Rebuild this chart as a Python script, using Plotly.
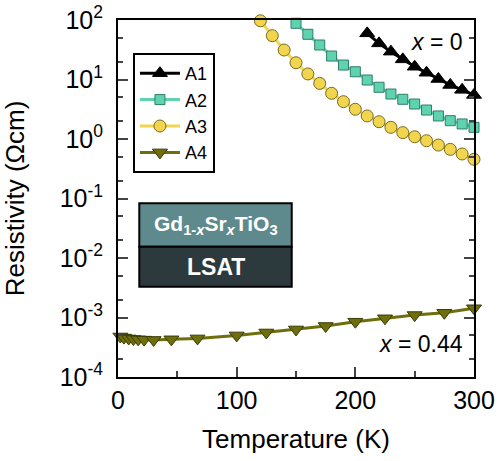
import plotly.graph_objects as go

# ---- data ----
T_A1 = [210, 220, 230, 240, 250, 260, 270, 280, 290, 300]
R_A1 = [59.7, 40.5, 29.4, 21.8, 16.4, 13.0, 10.2, 8.1, 6.7, 5.5]

T_A2 = [150, 160, 170, 180, 190, 200, 210, 220, 230, 240, 250, 260, 270, 280, 290, 300]
R_A2 = [88, 57.5, 38, 24.8, 17.5, 13.5, 9.8, 7.4, 5.7, 4.65, 3.87, 3.07, 2.44, 2.03, 1.79, 1.57]

T_A3 = [120, 130, 140, 150, 160, 170, 180, 190, 200, 210, 220, 230, 240, 250, 260, 270, 280, 290, 300]
R_A3 = [97, 54.5, 31.3, 19.1, 12.4, 8.6, 5.86, 4.24, 3.16, 2.44, 1.95, 1.57, 1.28, 1.09, 0.935, 0.79, 0.67, 0.56, 0.456]

T_A4 = [2, 5, 9, 13, 17, 22, 30, 45, 67, 100, 125, 150, 175, 200, 225, 250, 275, 300]
R_A4 = [4.8e-4, 4.6e-4, 4.45e-4, 4.35e-4, 4.3e-4, 4.25e-4, 4.2e-4, 4.3e-4, 4.45e-4, 5.0e-4, 5.6e-4,
        6.3e-4, 7.2e-4, 8.5e-4, 9.7e-4, 1.1e-3, 1.2e-3, 1.43e-3]

Y_TICKVALS = [1e-4, 1e-3, 1e-2, 1e-1, 1e0, 1e1, 1e2]
Y_TICKTEXT = ["10<sup>-4</sup>", "10<sup>-3</sup>", "10<sup>-2</sup>", "10<sup>-1</sup>",
              "10<sup>0</sup>", "10<sup>1</sup>", "10<sup>2</sup>"]
X_TICKVALS = [0, 100, 200, 300]

FONT = "Liberation Sans, Arial, sans-serif"

fig = go.Figure()
fig.add_trace(go.Scatter(x=T_A1, y=R_A1, name="A1", mode="lines+markers", cliponaxis=False,
                         line=dict(color="black", width=3),
                         marker=dict(symbol="triangle-up", size=13, color="black",
                                     line=dict(color="black", width=1))))
fig.add_trace(go.Scatter(x=T_A2, y=R_A2, name="A2", mode="lines+markers", cliponaxis=False,
                         line=dict(color="#5fd3b0", width=3),
                         marker=dict(symbol="square", size=10, color="#5fd3b0",
                                     line=dict(color="#2f7d6a", width=1))))
fig.add_trace(go.Scatter(x=T_A3, y=R_A3, name="A3", mode="lines+markers", cliponaxis=False,
                         line=dict(color="#f2d54e", width=3),
                         marker=dict(symbol="circle", size=12, color="#f2d54e",
                                     line=dict(color="#7a6a20", width=1))))
fig.add_trace(go.Scatter(x=T_A4, y=R_A4, name="A4", mode="lines+markers", cliponaxis=False,
                         line=dict(color="#6e6e0c", width=3),
                         marker=dict(symbol="triangle-down", size=13, color="#6e6e0c",
                                     line=dict(color="#3a3a05", width=1))))

fig.update_layout(
    width=500, height=461,
    margin=dict(l=118, r=26, t=20, b=84, autoexpand=False),
    paper_bgcolor="white", plot_bgcolor="white",
    font=dict(family=FONT, color="black", size=22),
    showlegend=True,
    legend=dict(x=0.042, y=0.9076, xanchor="left", yanchor="top",
                bordercolor="black", borderwidth=2, bgcolor="white",
                font=dict(size=18), itemwidth=40, tracegroupgap=0),
)
fig.update_xaxes(range=[0, 300], tickvals=X_TICKVALS, ticks="inside", ticklen=10,
                 tickwidth=2, showline=True, linewidth=2, linecolor="black", mirror=True,
                 showgrid=False, zeroline=False, tickfont=dict(size=25), automargin=False,
                 minor=dict(tickvals=[50, 150, 250], ticks="inside", ticklen=6, tickwidth=2),
                 title=dict(text="Temperature (K)", font=dict(size=26), standoff=17))
fig.update_yaxes(type="log", range=[-4, 2], tickvals=Y_TICKVALS, ticktext=Y_TICKTEXT,
                 ticks="inside", ticklen=10, tickwidth=2, showline=True, linewidth=2,
                 linecolor="black", mirror="allticks", showgrid=False, zeroline=False,
                 tickfont=dict(size=25), automargin=False, ticklabelstandoff=8,
                 ticklabeloverflow="allow",
                 minor=dict(ticks="inside", ticklen=5, tickwidth=1.5, showgrid=False),
                 title=dict(text="Resistivity (Ωcm)", font=dict(size=26), standoff=40))

# inset (substrate stack)
fig.add_shape(type="rect", xref="paper", yref="paper", x0=0.0598, x1=0.488, y0=0.365, y1=0.4866,
              fillcolor="#5e8a8e", line=dict(color="black", width=2))
fig.add_shape(type="rect", xref="paper", yref="paper", x0=0.0598, x1=0.488, y0=0.253, y1=0.365,
              fillcolor="#2c3a3e", line=dict(color="black", width=2))
fig.add_annotation(xref="paper", yref="paper", x=0.274, y=0.426, xanchor="center", yanchor="middle",
                   showarrow=False,
                   text="Gd<sub>1-<i>x</i></sub>Sr<sub><i>x</i></sub>TiO<sub>3</sub>",
                   font=dict(size=21, color="white", weight="bold"))
fig.add_annotation(xref="paper", yref="paper", x=0.274, y=0.309, xanchor="center", yanchor="middle",
                   showarrow=False, text="LSAT", font=dict(size=23, color="white", weight="bold"))

# composition labels
fig.add_annotation(xref="paper", yref="paper", x=0.975, y=0.937, xanchor="right", yanchor="middle",
                   showarrow=False, text="<i>x</i> = 0", font=dict(size=23))
fig.add_annotation(xref="paper", yref="paper", x=0.975, y=0.092, xanchor="right", yanchor="middle",
                   showarrow=False, text="<i>x</i> = 0.44", font=dict(size=23))

# the page's default 8px body margin would shift the figure; remove it
fig.write_html("out.html", config={"displayModeBar": False},
               post_script="document.body.style.margin='0px';")
